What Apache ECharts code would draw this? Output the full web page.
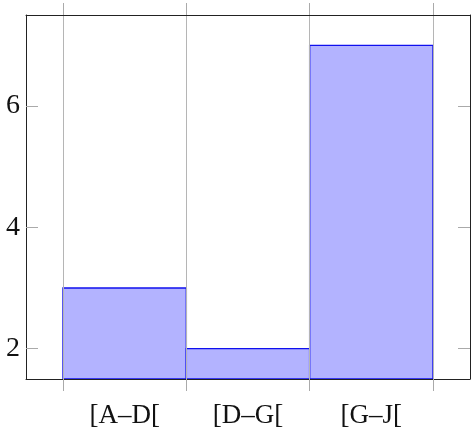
<!DOCTYPE html>
<html>
<head>
<meta charset="utf-8">
<script src="https://cdn.jsdelivr.net/npm/echarts@6/dist/echarts.min.js"></script>
<style>
html,body{margin:0;padding:0;background:#fff;}
#chart{width:474px;height:434px;}
</style>
</head>
<body>
<div id="chart"></div>
<script>
// Data
const categories = ['[A\u2013D[', '[D\u2013G[', '[G\u2013J['];
const counts = [3, 2, 7];
const binEdges = [0, 1, 2, 3];
const yTicks = [2, 4, 6];

const FONT = 'Liberation Serif';
const chart = echarts.init(document.getElementById('chart'), null, {renderer: 'canvas'});

const barData = counts.map((c, i) => [binEdges[i], binEdges[i + 1], c]);
const labelPos = categories.map((_, i) => (binEdges[i] + binEdges[i + 1]) / 2);

const xAxisBase = {
  type: 'value', min: -0.3, max: 3.3, z: 10,
  axisLine: {show: true, onZero: false, lineStyle: {color: '#222', width: 1}},
  splitLine: {show: false}
};
const yAxisBase = {
  type: 'value', min: 1.5, max: 7.5, z: 10,
  axisLine: {show: true, onZero: false, lineStyle: {color: '#222', width: 1}},
  splitLine: {show: false},
  axisTick: {show: true, inside: true, length: 12, customValues: yTicks, lineStyle: {color: '#aaa', width: 1}}
};

chart.setOption({
  animation: false,
  grid: {left: 26, right: 4, top: 15, bottom: 55, containLabel: false},
  xAxis: [
    Object.assign({}, xAxisBase, {
      position: 'bottom',
      axisTick: {show: true, inside: false, length: 12, customValues: binEdges, lineStyle: {color: '#aaa', width: 1}},
      axisLabel: {
        show: true, customValues: labelPos, margin: 23,
        fontFamily: FONT, fontSize: 27, color: '#111',
        formatter: (v) => {
          const idx = labelPos.findIndex(p => Math.abs(p - v) < 1e-6);
          return idx >= 0 ? categories[idx] : '';
        }
      }
    }),
    Object.assign({}, xAxisBase, {
      position: 'top',
      axisTick: {show: true, inside: false, length: 12, customValues: binEdges, lineStyle: {color: '#aaa', width: 1}},
      axisLabel: {show: false}
    })
  ],
  yAxis: [
    Object.assign({}, yAxisBase, {
      position: 'left',
      axisLabel: {show: true, customValues: yTicks, margin: 6, fontFamily: FONT, fontSize: 28, color: '#111'}
    }),
    Object.assign({}, yAxisBase, {
      position: 'right',
      axisLabel: {show: false}
    })
  ],
  series: [
    {
      type: 'line', data: [], xAxisIndex: 0, yAxisIndex: 0, z: 1,
      markLine: {
        silent: true, symbol: 'none', label: {show: false},
        lineStyle: {color: '#b5b5b5', width: 1, type: 'solid'},
        data: binEdges.map(e => ({xAxis: e}))
      }
    },
    {
      type: 'custom', xAxisIndex: 0, yAxisIndex: 0, z: 3,
      data: barData,
      encode: {x: [0, 1], y: 2},
      renderItem: function (params, api) {
        const x0 = api.value(0), x1 = api.value(1), v = api.value(2);
        const pTop = api.coord([x0, v]);
        const pBot = api.coord([x1, 0]);
        const rect = echarts.graphic.clipRectByRect({
          x: pTop[0], y: pTop[1], width: pBot[0] - pTop[0], height: pBot[1] - pTop[1]
        }, {
          x: params.coordSys.x, y: params.coordSys.y,
          width: params.coordSys.width, height: params.coordSys.height
        });
        if (!rect) return null;
        return {
          type: 'rect', shape: rect,
          style: {fill: '#b3b3ff', stroke: '#1010ee', lineWidth: 1.4}
        };
      }
    }
  ]
});
</script>
</body>
</html>
